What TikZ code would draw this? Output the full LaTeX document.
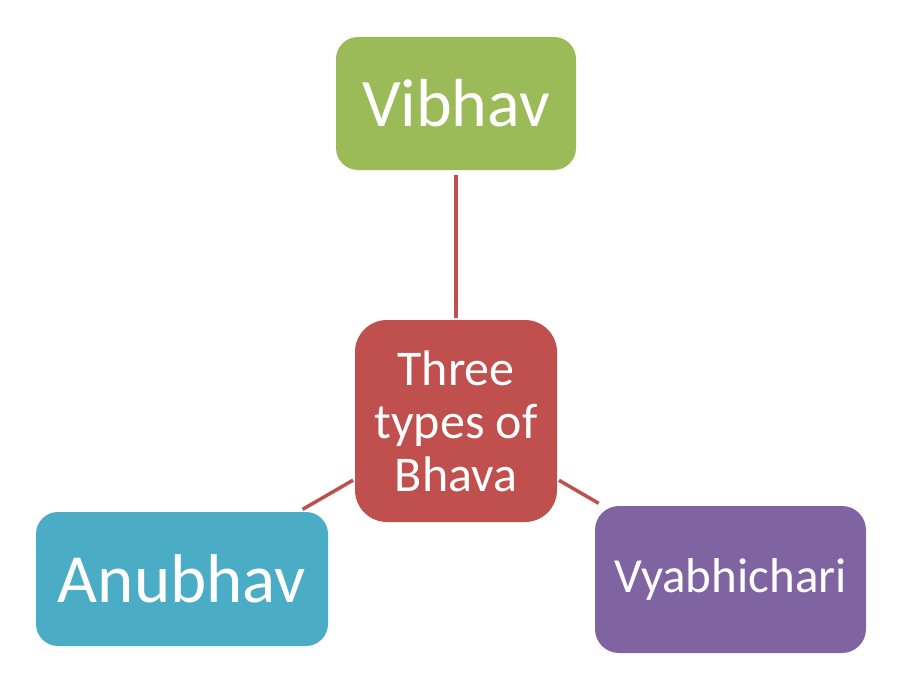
\documentclass[tikz,border=0pt]{standalone}
\usepackage{fontspec}
\setmainfont{Carlito}
\definecolor{cgreen}{HTML}{9BBB59}
\definecolor{cred}{HTML}{C0504D}
\definecolor{cblue}{HTML}{4BACC6}
\definecolor{cpurple}{HTML}{8064A2}
\begin{document}
\begin{tikzpicture}[x=1pt,y=-1pt,
  box/.style={inner sep=0pt, text=white, align=center, rounded corners=22pt},
  link/.style={draw=cred, line width=3.5pt, shorten <=2pt, shorten >=5pt}]
\useasboundingbox (0,0) rectangle (902,690);
\node[box, fill=cred, minimum width=202pt, minimum height=202pt, rounded corners=32pt,
  font=\fontsize{50}{53}\selectfont] (c) at (456,421) {Three\\types of\\Bhava};
\node[box, fill=cgreen, minimum width=240pt, minimum height=133pt,
  font=\fontsize{68}{70}\selectfont] (v) at (456,103.5) {Vibhav};
\node[box, fill=cblue, minimum width=292pt, minimum height=134pt,
  font=\fontsize{69}{72}\selectfont] (a) at (182,579) {Anubhav};
\node[box, fill=cpurple, minimum width=271pt, minimum height=147pt, rounded corners=24pt,
  font=\fontsize{49}{52}\selectfont] (y) at (730.5,579.5) {Vyabhichari};
\draw[link] (c) -- (v);
\draw[link] (c) -- (a);
\draw[link] (c) -- (y);
\end{tikzpicture}
\end{document}
